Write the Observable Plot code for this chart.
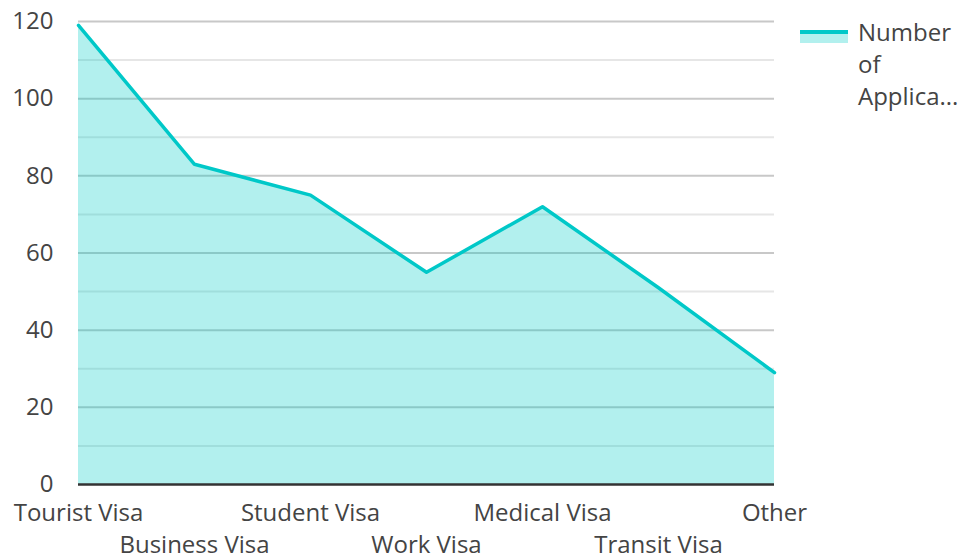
<!DOCTYPE html>
<html>
<head>
<meta charset="utf-8">
<script src="https://cdn.jsdelivr.net/npm/d3@7"></script>
<script src="https://cdn.jsdelivr.net/npm/@observablehq/plot@0.6"></script>
<style>
  body { margin: 0; background: #fff; font-family: "Open Sans", "Noto Sans", sans-serif; }
  #wrap { position: relative; width: 963px; height: 555px; }
  #legend { position: absolute; left: 800px; top: 16px; display: flex; align-items: flex-start; }
  #legend .sw { width: 48px; height: 14px; margin-top: 13px; position: relative; }
  #legend .sw .fill { position: absolute; left: 0; top: 3px; width: 48px; height: 11px; background: #00ccc8; opacity: 0.3; }
  #legend .sw .ln { position: absolute; left: 0; top: 1px; width: 48px; height: 4px; background: #00c8c8; }
  #legend .txt { margin-left: 10px; font-size: 24px; line-height: 32px; color: #444; width: 105px; }
</style>
</head>
<body>
<div id="wrap"></div>
<script>
const categories = ["Tourist Visa", "Business Visa", "Student Visa", "Work Visa", "Medical Visa", "Transit Visa", "Other"];
const applications = [119, 83, 75, 55, 72, 51, 29];
const majorTicks = [0, 20, 40, 60, 80, 100, 120];
const minorTicks = [10, 30, 50, 70, 90, 110];
const seriesName = "Number of Applications";

const data = categories.map((c, i) => ({category: c, value: applications[i]}));
const evenCats = categories.filter((d, i) => i % 2 === 0);
const oddCats = categories.filter((d, i) => i % 2 === 1);

const chart = Plot.plot({
  width: 963,
  height: 555,
  marginLeft: 78,
  marginRight: 189,
  marginTop: 21,
  marginBottom: 71,
  style: {fontFamily: "'Open Sans', 'Noto Sans', sans-serif", fontSize: "24px", color: "#444", background: "#fff"},
  x: {type: "point", domain: categories, padding: 0, label: null},
  y: {domain: [0, 120], label: null},
  marks: [
    Plot.ruleY(minorTicks, {stroke: "#e6e6e6", strokeWidth: 2}),
    Plot.ruleY(majorTicks.slice(1), {stroke: "#c8c8c8", strokeWidth: 2}),
    Plot.areaY(data, {x: "category", y: "value", fill: "#00ccc8", fillOpacity: 0.3}),
    Plot.lineY(data, {x: "category", y: "value", stroke: "#00c8c8", strokeWidth: 3.5}),
    Plot.ruleY([0], {stroke: "#333", strokeWidth: 2.5}),
    Plot.axisY(majorTicks, {tickSize: 0, tickPadding: 25, fontSize: 24, fill: "#444", label: null}),
    Plot.axisX(evenCats, {tickSize: 0, tickPadding: 19, fontSize: 24, fill: "#444", label: null}),
    Plot.axisX(oddCats, {tickSize: 0, tickPadding: 51, fontSize: 24, fill: "#444", label: null})
  ]
});

document.getElementById("wrap").appendChild(chart);
const legend = document.createElement("div");
legend.id = "legend";
legend.innerHTML = `<div class="sw"><div class="fill"></div><div class="ln"></div></div><div class="txt">Number<br>of<br>Applica...</div>`;
legend.title = seriesName;
document.getElementById("wrap").appendChild(legend);
</script>
</body>
</html>
